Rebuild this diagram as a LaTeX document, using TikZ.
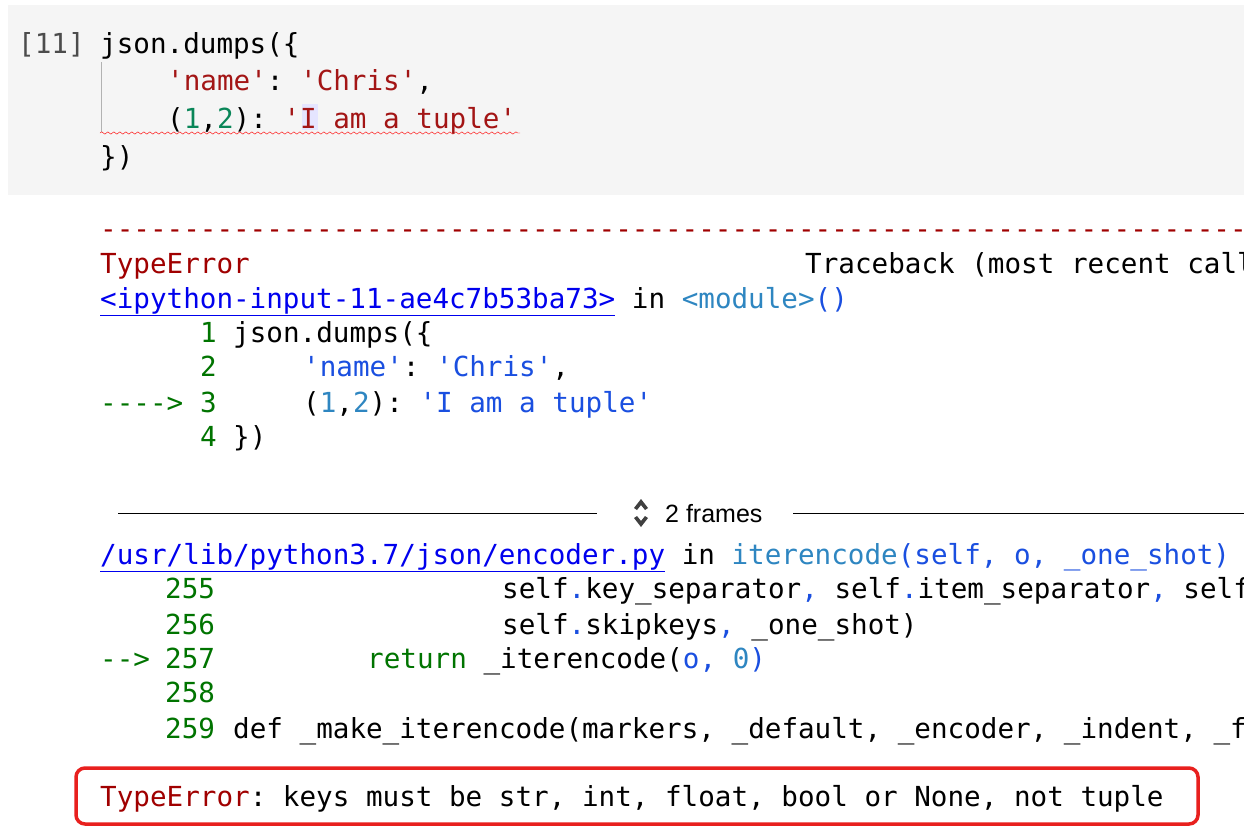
\documentclass[tikz,border=0pt]{standalone}
\usepackage{fontspec}
\setmonofont{DejaVu Sans Mono}
\setsansfont{Liberation Sans}
\usetikzlibrary{decorations.pathmorphing}
\definecolor{dred}{HTML}{A31515}
\definecolor{ered}{HTML}{A00000}
\definecolor{cgreen}{HTML}{098658}
\definecolor{lgreen}{HTML}{007400}
\definecolor{lblue}{HTML}{0000EE}
\definecolor{sblue}{HTML}{1A4FE0}
\definecolor{teal}{HTML}{2E86C1}
\definecolor{cellbg}{HTML}{F5F5F5}
\definecolor{boxred}{HTML}{E8201E}
\tikzset{t/.style={anchor=base west,inner sep=0pt,font=\fontsize{27.6}{32}\selectfont\ttfamily},
 ct/.style={t}}
\begin{document}
\begin{tikzpicture}[x=1pt,y=-1pt]
\useasboundingbox (0,0) rectangle (1244,830);
\fill[white] (0,0) rectangle (1244,830);
\fill[cellbg] (8,5) rectangle (1244,195);
\draw[gray!60] (101,62) -- (101,132);
\fill[blue!10] (302,104) rectangle (318,130);
\draw[red,decorate,decoration={snake,amplitude=1.2pt,segment length=6pt}] (100,133) -- (520,133);
% cell
\node[ct,text=black!70] (c0) at (18,53) {[11]};
\node[ct] (c1) at (100,53) {json.dumps(\{};
\node[ct,text=dred] (c2) at (167,90) {'name'\textcolor{black}{:} 'Chris'\textcolor{black}{,}};
\node[ct] (c3) at (167,128) {(\textcolor{cgreen}{1},\textcolor{cgreen}{2}): \textcolor{dred}{'I am a tuple'}};
\node[ct] (c4) at (100,166) {\})};
% output
\begin{scope}
\clip (0,200) rectangle (1244,830);
\node[t,text=ered] (d) at (100,238) {--------------------------------------------------------------------------};
\node[t] (tb) at (805,273) {Traceback (most recent call last)};
\node[t] (l9) at (233,738) {def \_make\_iterencode(markers, \_default, \_encoder, \_indent, \_floatstr};
\node[t] (l5) at (502,598) {self\textcolor{sblue}{.}key\_separator\textcolor{sblue}{,} self\textcolor{sblue}{.}item\_separator\textcolor{sblue}{,} self.sort\_keys};
\node[t] (f1) at (100,564) {\textcolor{lblue}{\underline{/usr/lib/python3.7/json/encoder.py}} in \textcolor{teal}{iterencode}\textcolor{sblue}{(self, o, \_one\_shot)}};
\end{scope}
\node[t,text=ered] (te) at (100,273) {TypeError};
\node[t] (ip) at (100,308) {\textcolor{lblue}{\underline{<ipython-input-11-ae4c7b53ba73>}} in \textcolor{teal}{<module>}\textcolor{sblue}{()}};
\node[t,text=lgreen] (n1) at (200,342) {1};
\node[t] (s1) at (233,342) {json.dumps(\{};
\node[t,text=lgreen] (n2) at (200,376) {2};
\node[t,text=sblue] (s2) at (303,376) {'name'\textcolor{black}{:} 'Chris'\textcolor{black}{,}};
\node[t,text=lgreen] (n3) at (100,412) {---->};
\node[t,text=lgreen] (n3b) at (200,412) {3};
\node[t] (s3) at (303,412) {(\textcolor{teal}{1},\textcolor{teal}{2}): \textcolor{sblue}{'I am a tuple'}};
\node[t,text=lgreen] (n4) at (200,446) {4};
\node[t] (s4) at (233,446) {\})};
% frames
\draw[black] (118,513) -- (597,513);
\draw[black] (793,513) -- (1244,513);
\fill[black!75] (634,508) -- (641,499) -- (648,508) -- (645,510) -- (641,505) -- (637,510) -- cycle;
\fill[black!75] (634,518) -- (641,527) -- (648,518) -- (645,516) -- (641,521) -- (637,516) -- cycle;
\node[anchor=base west,inner sep=0pt,font=\fontsize{25}{30}\selectfont\sffamily] (fr) at (665,522) {2 frames};
\node[t,text=lgreen] (n255) at (165,598) {255};
\node[t,text=lgreen] (n256) at (165,634) {256};
\node[t] (l6) at (502,634) {self\textcolor{sblue}{.}skipkeys\textcolor{sblue}{,} \_one\_shot)};
\node[t,text=lgreen] (n257) at (100,668) {-->};
\node[t,text=lgreen] (n257b) at (165,668) {257};
\node[t] (l7) at (367,668) {\textcolor{lgreen}{return} \_iterencode(\textcolor{sblue}{o, }\textcolor{teal}{0}\textcolor{sblue}{)}};
\node[t,text=lgreen] (n258) at (165,702) {258};
\node[t,text=lgreen] (n259) at (165,738) {259};
% error
\draw[boxred,line width=3.5pt,rounded corners=9pt] (76,768) rectangle (1198,824);
\node[t] (err) at (100,806) {\textcolor{ered}{TypeError}: keys must be str, int, float, bool or None, not tuple};
\end{tikzpicture}
\end{document}
